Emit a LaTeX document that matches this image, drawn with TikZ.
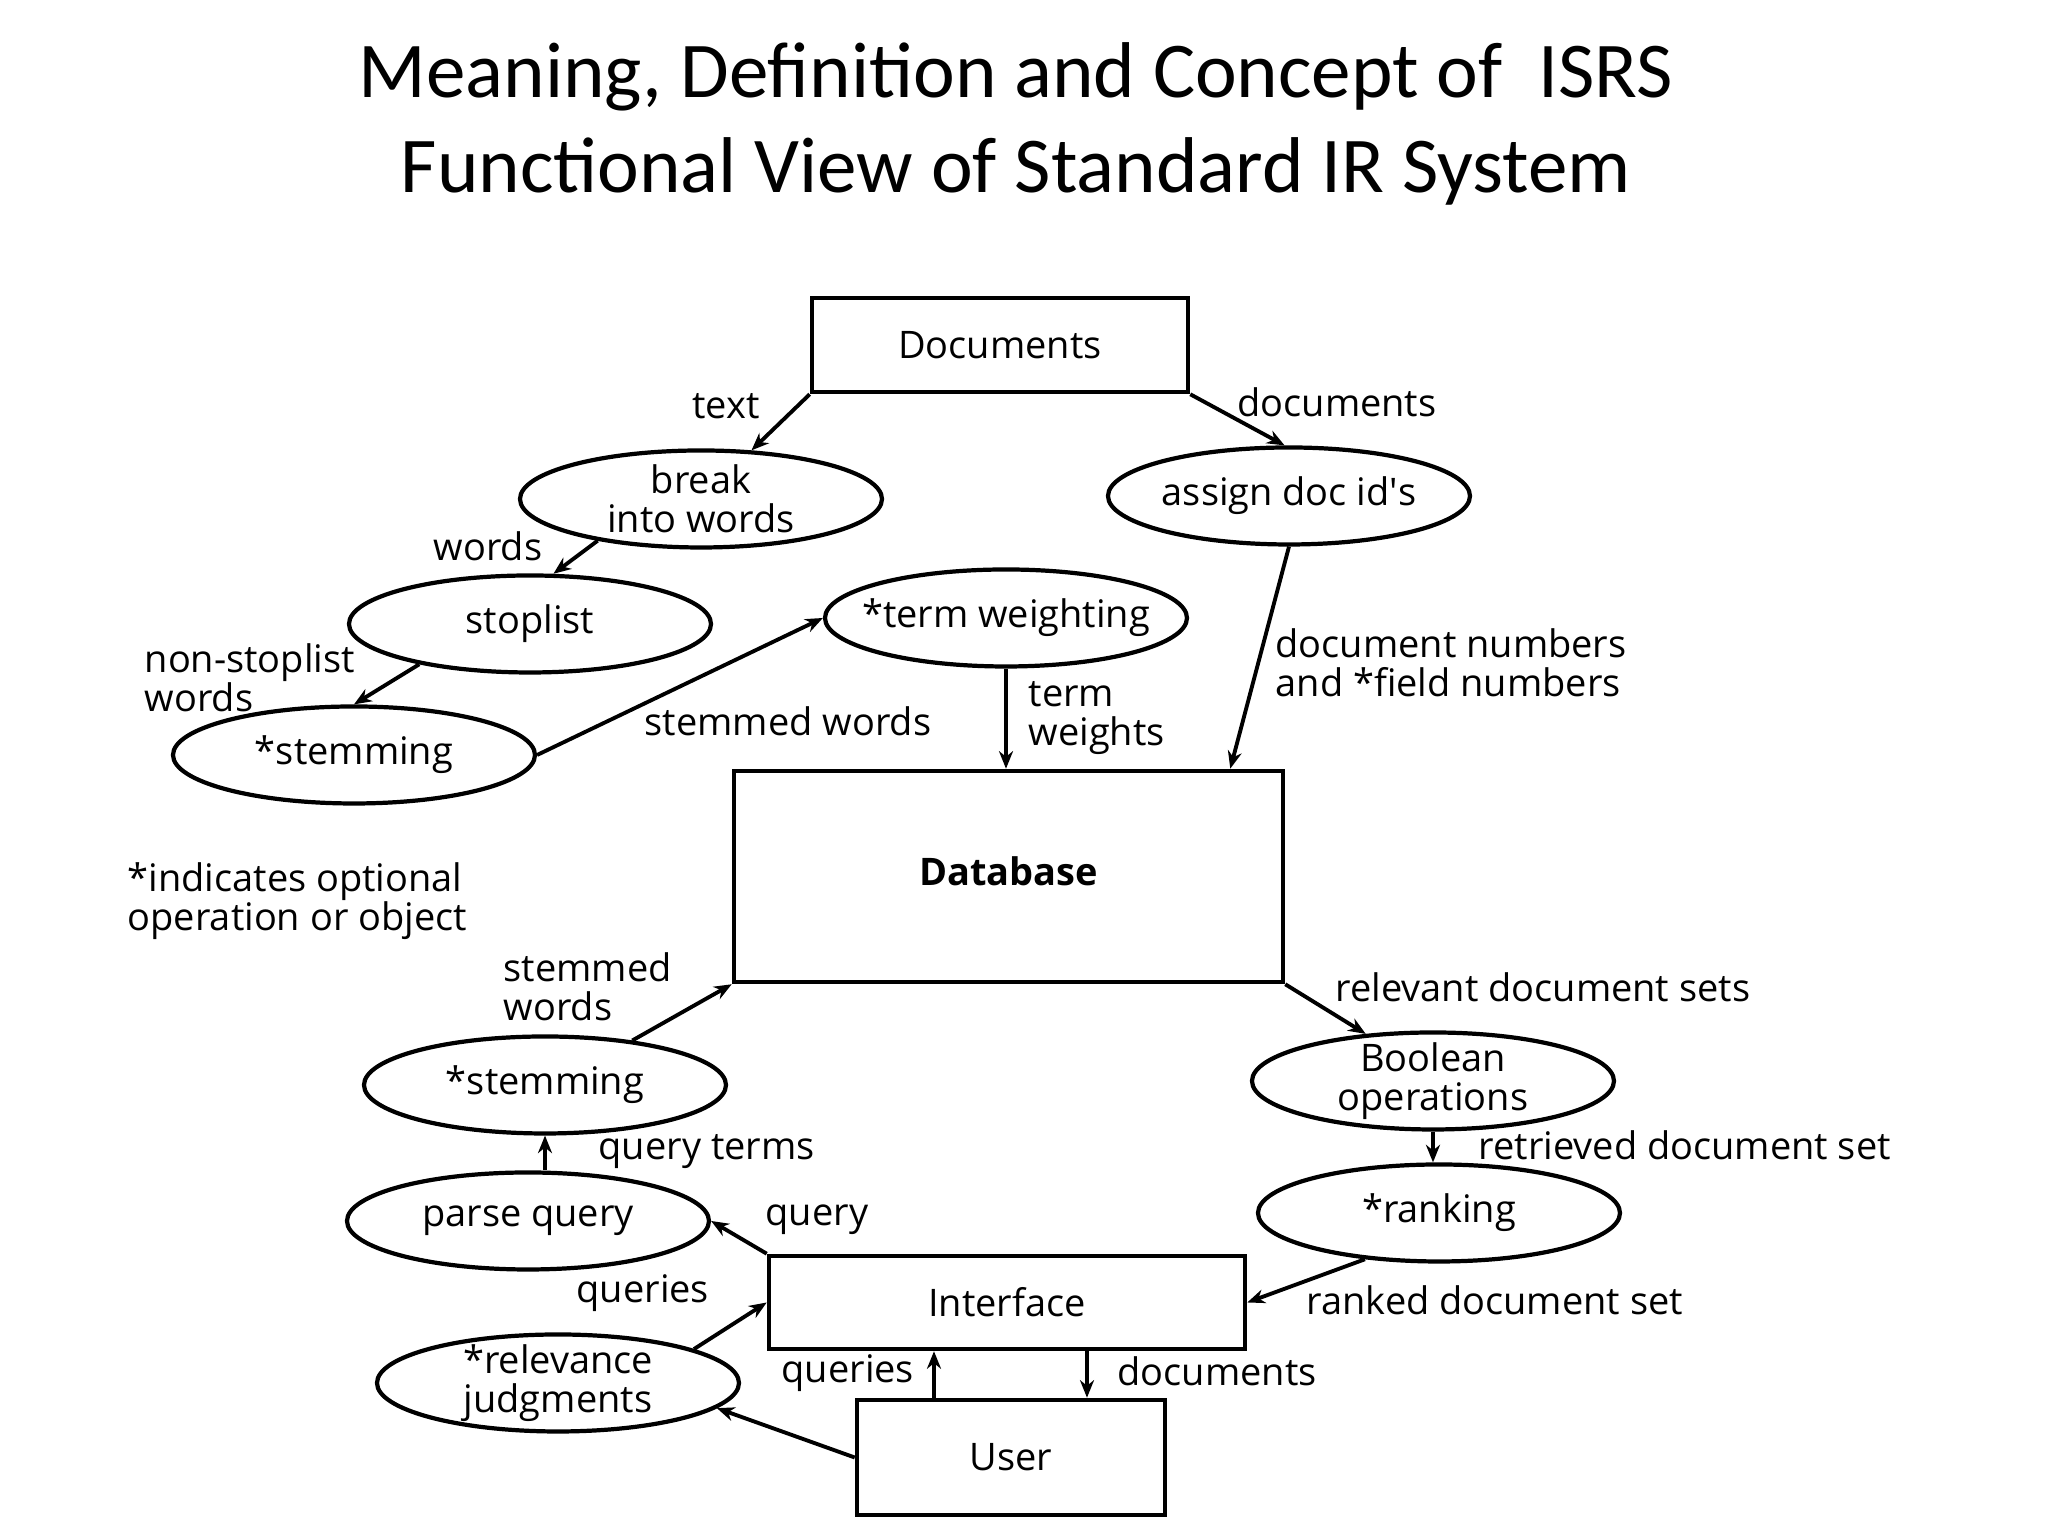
\documentclass[tikz,border=0pt]{standalone}
\usepackage{fontspec}
\setmainfont{Open Sans}
\newfontfamily\titlefont{Carlito}
\usetikzlibrary{shapes.geometric,arrows.meta}
\begin{document}
\begin{tikzpicture}[x=1cm,y=1cm,
  >={Stealth[length=5pt,width=4pt]},
  every node/.style={font=\fontsize{10.8}{11.1}\selectfont},
  title/.style={font=\titlefont\fontsize{22.5}{27}\selectfont,anchor=base},
  box/.style={draw,line width=1.3pt,inner sep=0pt},
  proc/.style={draw,ellipse,line width=1.2pt,minimum width=3.62cm,minimum height=0.97cm,
    inner xsep=-8mm,inner ysep=-3mm,align=center},
  lbl/.style={align=left,inner sep=0pt,anchor=west},
  flow/.style={->,line width=1.1pt}]
\useasboundingbox (0,0) rectangle (20.48,15.36);
\node[title] (title1) at (10.16,14.38) {Meaning, Definition and Concept of\ \ ISRS};
\node[title] (title2) at (10.16,13.43) {Functional View of Standard IR System};
\node[box,minimum width=3.76cm,minimum height=0.94cm] (docs) at (10.00,11.91) {Documents};
\node[box,minimum width=5.49cm,minimum height=2.11cm,font=\fontsize{10.8}{11.1}\selectfont\bfseries,
  text depth=0.1cm] (db) at (10.085,6.595) {Database};
\node[box,minimum width=4.76cm,minimum height=0.93cm] (iface) at (10.07,2.335) {Interface};
\node[box,minimum width=3.08cm,minimum height=1.15cm] (user) at (10.11,0.785) {User};
\node[proc] (brk) at (7.01,10.37) {break\\into words};
\node[proc] (assign) at (12.89,10.40) {assign doc id\textquotesingle s};
\node[proc] (stop) at (5.30,9.12) {stoplist};
\node[proc] (termw) at (10.06,9.18) {*term weighting};
\node[proc] (stemA) at (3.54,7.81) {*stemming};
\node[proc] (stemB) at (5.45,4.51) {*stemming};
\node[proc] (bool) at (14.33,4.55) {Boolean\\operations};
\node[proc] (parse) at (5.28,3.15) {parse query};
\node[proc] (rank) at (14.39,3.23) {*ranking};
\node[proc] (relev) at (5.58,1.53) {*relevance\\judgments};
\draw[flow] (docs.south west) -- (brk);
\draw[flow] (docs.south east) -- (assign.95);
\draw[flow] (brk.202) -- (stop.65);
\draw[flow] (stop.200) -- (stemA.north);
\draw[flow] (stemA.east) -- (termw.west);
\draw[flow] (termw.south) -- (termw.south |- db.north);
\draw[flow] (assign.south) -- ([xshift=-0.55cm]db.north east);
\draw[flow] (db.south east) -- (bool.145);
\draw[flow] (bool.south) -- (bool.south |- rank.north);
\draw[flow] (rank.212) -- (iface.east);
\draw[flow] (iface.north west) -- (parse.east);
\draw[flow] (stemB.south |- parse.north) -- (stemB.south);
\draw[flow] (stemB.27) -- (db.south west);
\draw[flow] (relev.14) -- (iface.west);
\draw[flow] (user.west) -- (relev.351);
\draw[flow] ([xshift=-0.77cm]user.north) -- ([xshift=-0.77cm]user.north |- iface.south);
\draw[flow] ([xshift=0.76cm]user.north |- iface.south) -- ([xshift=0.76cm]user.north);
\node (ltext) at (7.26,11.30) {text};
\node (ldocs) at (13.37,11.34) {documents};
\node (lwords) at (4.88,9.90) {words};
\node[lbl] (lnonstop) at (1.44,8.58) {non-stoplist\\words};
\node (lstemmed) at (7.88,8.15) {stemmed words};
\node[lbl] (lweights) at (10.28,8.18) {term\\weights};
\node[lbl] (ldocnums) at (12.75,8.73) {document numbers\\and *field numbers};
\node[lbl] (lnote) at (1.27,6.35) {*indicates optional\\operation or object};
\node[lbl] (lstemmed2) at (5.03,5.49) {stemmed\\words};
\node[lbl] (lrelevant) at (13.35,5.49) {relevant document sets};
\node[lbl] (lretrieved) at (14.78,3.91) {retrieved document set};
\node[lbl] (lqterms) at (5.98,3.84) {query terms};
\node[lbl] (lquery) at (7.65,3.16) {query};
\node[lbl] (lqueries) at (5.76,2.43) {queries};
\node[lbl] (lranked) at (13.06,2.36) {ranked document set};
\node[lbl] (lqueries2) at (7.81,1.63) {queries};
\node[lbl] (ldocs2) at (11.17,1.65) {documents};
\end{tikzpicture}
\end{document}
